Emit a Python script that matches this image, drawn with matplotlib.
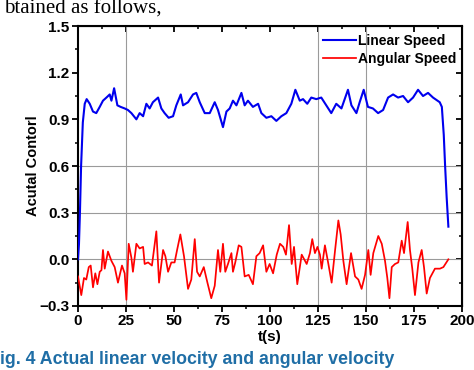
import matplotlib
matplotlib.use("Agg")
import matplotlib.pyplot as plt
from matplotlib.ticker import MultipleLocator

# ── data ─────────────────────────────────────────────────────────────────────
lin_t = [0, 0.5, 1.0, 1.6, 2.5, 3.5, 4.5, 6.1, 7.8, 9.5, 11.3, 13.0, 14.8, 16.5,
         17.4, 18.8, 20.5, 22.2, 24.3, 26.0, 27.8, 30.4, 32.1, 33.9, 35.6, 37.3,
         39.0, 41.7, 43.4, 45.1, 47.2, 49.5, 51.2, 53.5, 54.7, 57.3, 59.9, 61.6,
         63.4, 66.0, 68.6, 71.2, 72.9, 75.5, 77.3, 79.0, 80.7, 82.5, 85.1, 86.8,
         88.5, 91.1, 93.8, 95.5, 98.1, 100.7, 103.3, 105.9, 108.5, 111.1, 113.2,
         115.5, 117.2, 119.4, 121.5, 124.1, 126.7, 129.3, 131.9, 134.5, 137.2,
         138.9, 140.6, 142.4, 145.0, 146.7, 148.8, 151.0, 153.6, 156.3, 158.9,
         161.5, 164.1, 166.7, 169.3, 171.9, 174.5, 177.1, 179.7, 182.3, 184.9,
         188.4, 189.5, 190.5, 191.2, 192.0, 192.9]
lin_v = [0.0, 0.1, 0.3, 0.6, 0.88, 1.0, 1.03, 1.00, 0.95, 0.94, 0.98, 1.02, 1.04,
         1.06, 1.02, 1.10, 0.99, 0.98, 0.97, 0.96, 0.94, 0.90, 0.94, 0.92, 1.00,
         0.97, 1.01, 1.04, 0.97, 0.94, 0.91, 0.92, 0.99, 1.06, 0.99, 1.01, 1.06,
         1.07, 1.01, 0.94, 0.94, 1.01, 0.96, 0.85, 0.95, 0.97, 1.02, 0.99, 1.07,
         0.99, 1.02, 0.98, 1.00, 0.94, 0.91, 0.92, 0.89, 0.92, 0.94, 1.00, 1.09,
         1.02, 1.03, 1.00, 1.04, 1.03, 1.04, 0.99, 0.94, 1.00, 0.97, 1.03, 1.09,
         0.99, 0.94, 1.01, 1.09, 0.98, 0.97, 0.94, 0.96, 1.04, 1.06, 1.04, 1.05,
         1.01, 1.04, 1.09, 1.05, 1.07, 1.04, 1.01, 0.98, 0.80, 0.60, 0.40, 0.21]

ang_t = [0, 1.7, 3.1, 4.3, 5.6, 6.6, 7.8, 9.0, 10.1, 11.3, 12.2, 13.0, 13.9, 15.6,
         17.4, 19.1, 20.8, 22.9, 24.3, 25.2, 26.4, 27.8, 28.6, 30.4, 32.1, 33.9,
         34.7, 36.5, 38.5, 40.8, 42.2, 44.3, 45.5, 46.9, 48.6, 50.3, 51.6, 53.3,
         55.2, 57.3, 59.0, 60.8, 62.0, 63.4, 65.5, 67.4, 69.4, 71.2, 72.9, 74.1,
         75.5, 76.7, 78.1, 79.9, 80.7, 81.9, 83.7, 85.1, 86.8, 88.9, 91.1, 92.9,
         94.6, 96.4, 98.1, 99.8, 101.6, 103.5, 105.2, 106.9, 108.3, 109.9, 111.3,
         112.5, 114.2, 116.5, 119.1, 120.8, 122.0, 123.4, 124.7, 126.0, 126.9,
         128.6, 130.4, 132.1, 133.9, 135.6, 136.8, 138.2, 139.9, 142.2, 144.3,
         146.0, 147.7, 149.5, 151.2, 152.4, 153.8, 156.4, 158.2, 159.9, 161.1,
         162.2, 163.4, 165.1, 166.8, 168.6, 169.8, 171.7, 172.9, 174.1, 175.5,
         177.3, 179.0, 180.2, 181.6, 183.3, 185.9, 188.5, 190.3, 192.9]
ang_v = [-0.11, -0.23, -0.12, -0.13, -0.05, -0.04, -0.18, -0.09, -0.16, -0.08,
         -0.07, 0.06, -0.06, 0.05, -0.01, -0.05, -0.15, -0.04, -0.09, -0.26, 0.10,
         0.01, -0.08, 0.10, 0.07, 0.08, -0.03, -0.02, -0.04, 0.18, -0.15, 0.06,
         0.02, -0.08, -0.02, -0.02, 0.06, 0.16, 0.02, -0.19, -0.13, 0.13, -0.08,
         -0.11, -0.05, -0.15, -0.25, -0.17, 0.06, -0.08, 0.10, -0.08, -0.03, 0.04,
         -0.08, -0.02, 0.09, 0.08, -0.11, -0.10, -0.16, 0.02, 0.04, 0.09, -0.08,
         -0.03, -0.09, 0.03, 0.10, 0.08, 0.03, 0.22, -0.03, 0.08, -0.16, 0.03,
         -0.03, 0.04, 0.13, 0.04, 0.08, 0.03, -0.06, 0.09, -0.03, -0.15, 0.06,
         0.25, 0.16, -0.01, -0.16, 0.04, -0.11, -0.13, -0.19, -0.10, 0.06, -0.10,
         0.04, 0.15, 0.10, -0.01, -0.12, -0.25, -0.05, -0.03, -0.02, 0.12, 0.04,
         0.24, 0.06, -0.06, -0.23, -0.02, 0.06, -0.05, -0.22, -0.12, -0.06, -0.06,
         -0.05, 0.00]

vgrid = [25, 125, 150]
hgrid = [0.0, 0.3, 0.6]

# ── figure ───────────────────────────────────────────────────────────────────
plt.rcParams["font.family"] = ["Liberation Sans", "DejaVu Sans"]
plt.rcParams["font.weight"] = "bold"

fig = plt.figure(figsize=(4.74, 3.70), dpi=100)
ax = fig.add_axes([0.1646, 0.173, 0.8101, 0.7567])

for g in vgrid:
    ax.axvline(g, color="#9a9a9a", lw=0.8, zorder=1)
for g in hgrid:
    ax.axhline(g, color="#9a9a9a", lw=0.8, zorder=1)

ax.plot(lin_t, lin_v, color="#0000ee", lw=1.5, label="Linear Speed", zorder=3)
ax.plot(ang_t, ang_v, color="#ff0000", lw=1.25, label="Angular Speed", zorder=3)

ax.set_xlim(0, 200)
ax.set_ylim(-0.3, 1.5)
ax.xaxis.set_major_locator(MultipleLocator(25))
ax.xaxis.set_minor_locator(MultipleLocator(12.5))
ax.yaxis.set_major_locator(MultipleLocator(0.3))
ax.yaxis.set_minor_locator(MultipleLocator(0.15))
ax.tick_params(which="major", direction="out", length=4, width=1.3,
               labelsize=11, pad=2)
ax.tick_params(which="minor", direction="out", length=2.5, width=1.1)
for s in ax.spines.values():
    s.set_linewidth(1.5)

top = ax.secondary_xaxis("top")
top.xaxis.set_major_locator(MultipleLocator(25))
top.xaxis.set_minor_locator(MultipleLocator(12.5))
top.tick_params(which="major", direction="in", length=4, width=1.3, labeltop=False)
top.tick_params(which="minor", direction="in", length=2.5, width=1.1)
right = ax.secondary_yaxis("right")
right.yaxis.set_major_locator(MultipleLocator(0.3))
right.yaxis.set_minor_locator(MultipleLocator(0.15))
right.tick_params(which="major", direction="in", length=4, width=1.3, labelright=False)
right.tick_params(which="minor", direction="in", length=2.5, width=1.1)

ax.set_xlabel("t(s)", fontsize=11, fontweight="bold", labelpad=1)
ax.set_ylabel("Acutal Contorl", fontsize=10.5, fontweight="bold", labelpad=0)

ax.legend(loc="upper right", bbox_to_anchor=(0.995, 0.985), frameon=False,
          handlelength=2.4, handletextpad=0.15, labelspacing=0.3,
          borderaxespad=0.0, borderpad=0.25, prop={"weight": "bold", "size": 10})

# surrounding page text
fig.text(0.008, 1.0, "btained as follows,", family="Liberation Serif",
         fontsize=15, fontweight="normal", va="top", ha="left")
fig.text(0.0, 0.005, "ig. 4 Actual linear velocity and angular velocity",
         fontsize=12.8, fontweight="bold", color="#1f6ea6", ha="left", va="bottom")

fig.savefig("out.png", dpi=100)
